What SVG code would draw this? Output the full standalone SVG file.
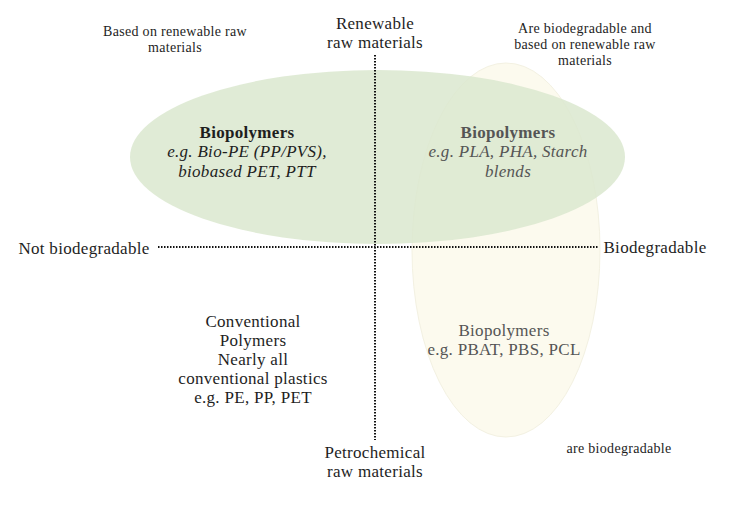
<svg xmlns="http://www.w3.org/2000/svg" width="738" height="506" viewBox="0 0 738 506">
<style>
text{font-family:"Liberation Serif","DejaVu Serif",serif;fill:#1e1e1e;text-anchor:middle}
.m{font-size:17px;letter-spacing:0.3px}
.s{font-size:14px;letter-spacing:0.3px}
.b{font-weight:bold}
.i{font-style:italic}
.g{fill:#555}
.axis{stroke:#111;stroke-width:2;stroke-dasharray:1.5 1.5;fill:none}
</style>
<rect width="738" height="506" fill="#fff"/>
<g id="cream-ellipse"><ellipse cx="506" cy="250" rx="94" ry="187" fill="#fcfaee" stroke="#f3f1e2" stroke-width="1"/></g>
<g id="green-ellipse"><ellipse cx="377.5" cy="157" rx="247.5" ry="87" fill="#dbe8cf" fill-opacity="0.85"/></g>
<g id="axes">
<line class="axis" x1="375" y1="55" x2="375" y2="440"/>
<line class="axis" x1="158" y1="247" x2="598" y2="247"/>
</g>
<g id="label-top-left"><text class="s" x="175" y="36">Based on renewable raw</text><text class="s" x="175" y="52">materials</text></g>
<g id="label-renewable"><text class="m" x="375" y="29">Renewable</text><text class="m" x="375" y="48">raw materials</text></g>
<g id="label-top-right"><text class="s" x="585" y="33">Are biodegradable and</text><text class="s" x="585" y="49">based on renewable raw</text><text class="s" x="585" y="65">materials</text></g>
<g id="node-biobased"><text class="m b" x="247" y="138">Biopolymers</text><text class="m i" x="247" y="157">e.g. Bio-PE (PP/PVS),</text><text class="m i" x="247" y="177">biobased PET, PTT</text></g>
<g id="node-bio-both"><text class="m b g" x="508" y="138">Biopolymers</text><text class="m i g" x="508" y="157">e.g. PLA, PHA, Starch</text><text class="m i g" x="508" y="177">blends</text></g>
<g id="label-not-bio"><text class="m" x="84" y="254">Not biodegradable</text></g>
<g id="label-bio"><text class="m" x="655" y="253">Biodegradable</text></g>
<g id="node-conventional"><text class="m" x="253" y="327">Conventional</text><text class="m" x="253" y="346">Polymers</text><text class="m" x="253" y="365">Nearly all</text><text class="m" x="253" y="384">conventional plastics</text><text class="m" x="253" y="403">e.g. PE, PP, PET</text></g>
<g id="node-bio-petro"><text class="m g" x="504" y="336">Biopolymers</text><text class="m g" x="504" y="355">e.g. PBAT, PBS, PCL</text></g>
<g id="label-petro"><text class="m" x="375" y="458">Petrochemical</text><text class="m" x="375" y="477">raw materials</text></g>
<g id="label-bottom-right"><text class="s" x="619" y="453">are biodegradable</text></g>
</svg>
